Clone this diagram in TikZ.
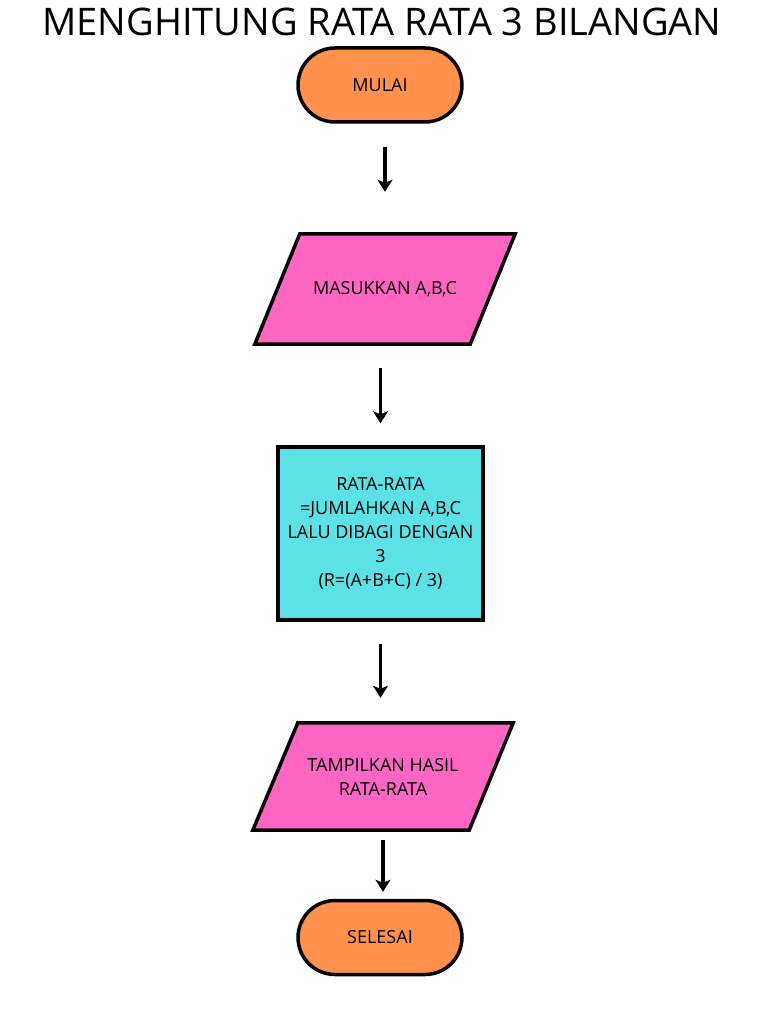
\documentclass[tikz,border=0pt]{standalone}
\usepackage{fontspec}
\setmainfont{Open Sans}
\usetikzlibrary{arrows.meta,backgrounds}
\definecolor{termorange}{HTML}{FF914D}
\definecolor{iopink}{HTML}{FF66C4}
\definecolor{proccyan}{HTML}{5CE1E6}
\tikzset{
  x=1pt,y=1pt,
  term/.style={draw=black,line width=3.5pt,fill=termorange,rounded corners=37pt,minimum width=164pt,minimum height=74pt,inner sep=0pt,font=\fontsize{18}{24}\selectfont},
  iobox/.style={minimum width=260pt,inner sep=0pt,align=center,font=\fontsize{18}{24}\selectfont},
  iofill/.style={draw=black,line width=3.5pt,fill=iopink,line join=miter},
  procbox/.style={draw=black,line width=3.5pt,fill=proccyan,minimum width=205pt,minimum height=173pt,inner sep=0pt,align=center,font=\fontsize{18}{24}\selectfont},
  flowarrow/.style={line width=3.3pt,-{Stealth[length=12pt,width=15pt,inset=3pt]}}
}
\begin{document}
\begin{tikzpicture}
\useasboundingbox (0,0) rectangle (768,-1024);
\node[font=\fontsize{38}{44}\selectfont] (title) at (382,-22) {MENGHITUNG RATA RATA 3 BILANGAN};
\node[term] (m) at (380,-85) {MULAI};
\node[iobox,minimum height=110pt] (p1) at (385,-289) {MASUKKAN A,B,C};
\node[procbox] (r) at (380.5,-533.5) {RATA-RATA\\=JUMLAHKAN A,B,C\\LALU DIBAGI DENGAN\\3\\(R=(A+B+C) / 3)};
\node[iobox,minimum height=107pt] (p2) at (383,-776.5) {TAMPILKAN HASIL\\RATA-RATA};
\node[term] (s) at (380,-937.5) {SELESAI};
\begin{scope}[on background layer]
\draw[iofill] ([xshift=45pt]p1.north west) -- (p1.north east) -- ([xshift=-45pt]p1.south east) -- (p1.south west) -- cycle;
\draw[iofill] ([xshift=45pt]p2.north west) -- (p2.north east) -- ([xshift=-44pt]p2.south east) -- (p2.south west) -- cycle;
\end{scope}
\draw[flowarrow,shorten <=23pt,shorten >=42pt] (m.south -| p1.north) -- (p1.north);
\draw[flowarrow,shorten <=24pt,shorten >=22pt] (p1.south -| r.north) -- (r.north);
\draw[flowarrow,shorten <=22pt,shorten >=25pt] (r.south) -- (r.south |- p2.north);
\draw[flowarrow,shorten <=10pt,shorten >=7pt] (p2.south) -- (p2.south |- s.north);
\end{tikzpicture}
\end{document}
